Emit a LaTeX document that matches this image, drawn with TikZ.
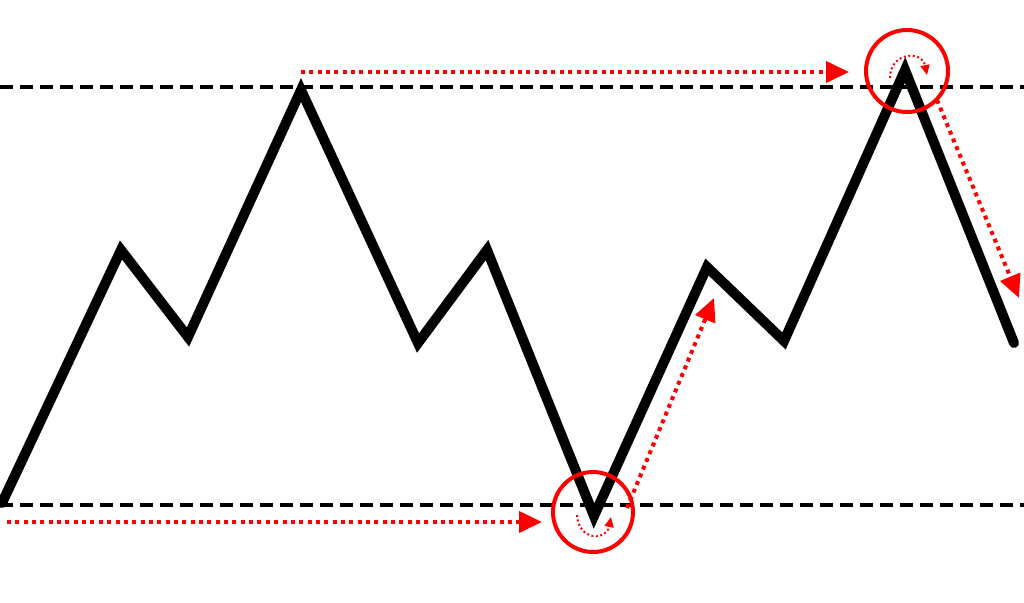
\documentclass[tikz,border=0pt]{standalone}
\usetikzlibrary{arrows.meta}
\definecolor{myred}{RGB}{255,0,0}
\tikzset{
  zig/.style={line width=0.2cm, line join=miter, line cap=round},
  level/.style={line width=0.08cm, dash pattern=on 0.27cm off 0.13cm},
  redarrow/.style={myred, line width=0.08cm, dash pattern=on 0.08cm off 0.087cm, -{Triangle[length=0.46cm,width=0.42cm]}},
  smallarrow/.style={myred, line width=0.04cm, dash pattern=on 0.04cm off 0.05cm, -{Triangle[length=0.2cm,width=0.18cm]}},
  ring/.style={myred, line width=0.08cm}
}
\begin{document}
\begin{tikzpicture}[x=0.02cm,y=-0.02cm]
\useasboundingbox (0,0) rectangle (1024,602);
% levels
\coordinate (la) at (0,87); \coordinate (lb) at (1024,87);
\coordinate (lc) at (0,505); \coordinate (ld) at (1024,505);
\draw[level] (la) -- (lb);
\draw[level] (lc) -- (ld);
% zigzag
\coordinate (p0) at (2,503);
\coordinate (p1) at (121,250);
\coordinate (p2) at (188,337);
\coordinate (p3) at (301,90);
\coordinate (p4) at (418,343);
\coordinate (p5) at (487,250);
\coordinate (p6) at (594,516);
\coordinate (p7) at (707,267);
\coordinate (p8) at (784,341);
\coordinate (p9) at (905,70);
\coordinate (p10) at (1014,343);
\draw[zig] (p0) -- (p1) -- (p2) -- (p3) -- (p4) -- (p5) -- (p6) -- (p7) -- (p8) -- (p9) -- (p10);
% circles
\coordinate (c1) at (593,512);
\coordinate (c2) at (907,71);
\draw[ring] (c1) circle[radius=40];
\draw[ring] (c2) circle[radius=41];
% red arrows
\coordinate (a1s) at (7,522); \coordinate (a1e) at (542,522);
\coordinate (a2s) at (301,72); \coordinate (a2e) at (849,72);
\coordinate (a3s) at (627,508); \coordinate (a3e) at (714,298);
\coordinate (a4s) at (937,100); \coordinate (a4e) at (1019,298);
\draw[redarrow] (a1s) -- (a1e);
\draw[redarrow] (a2s) -- (a2e);
\draw[redarrow] (a3s) -- (a3e);
\draw[redarrow] (a4s) -- (a4e);
% small curved arrows
\coordinate (s1s) at (577,515); \coordinate (s1e) at (611,517);
\draw[smallarrow] (s1s) .. controls (578,540) and (606,542) .. (s1e);
\coordinate (s2s) at (890,78); \coordinate (s2e) at (927,75);
\draw[smallarrow] (s2s) .. controls (890,52) and (922,50) .. (s2e);
\end{tikzpicture}
\end{document}
